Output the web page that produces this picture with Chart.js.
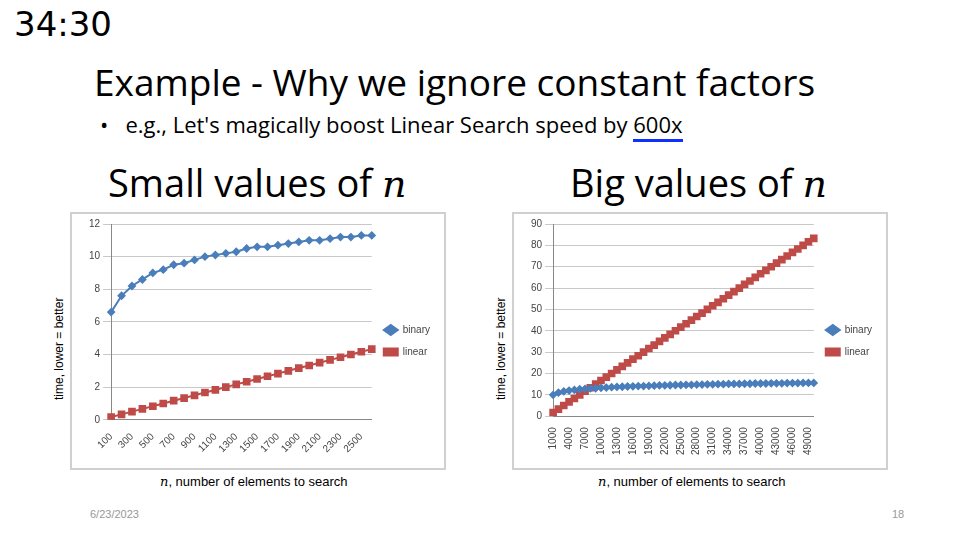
<!DOCTYPE html>
<html>
<head>
<meta charset="utf-8">
<script src="https://cdn.jsdelivr.net/npm/chart.js@4"></script>
<style>
  body { margin: 0; width: 960px; height: 540px; background: #fff; font-family: "Liberation Sans", Arial, sans-serif; position: relative; overflow: hidden; }
  .abs { position: absolute; white-space: nowrap; }
  .box { position: absolute; border: 2px solid #d0d0d0; width: 372px; height: 254px; }
  .ytitle { position: absolute; font-size: 12px; transform: rotate(-90deg); transform-origin: left top; }
  .xtitle { position: absolute; font-size: 13px; }
  i.n { font-family: "DejaVu Serif", serif; }
</style>
</head>
<body>
<div class="abs" style="left:14px;top:4px;font-size:34px;font-family:'DejaVu Sans';">34:30</div>
<div class="abs" style="left:94px;top:56px;font-size:37px;font-family:'Open Sans',sans-serif;">Example - Why we ignore constant factors</div>
<div class="abs" style="left:100px;top:109px;font-size:22px;font-family:'Open Sans',sans-serif;">•&nbsp;&nbsp;&nbsp;e.g., Let's magically boost Linear Search speed by <span style="border-bottom:3px solid #1030ff">600x</span></div>
<div class="abs" style="left:108px;top:156px;font-size:38px;font-family:'Open Sans',sans-serif;">Small values of <i class="n">n</i></div>
<div class="abs" style="left:570px;top:156px;font-size:38px;font-family:'Open Sans',sans-serif;">Big values of <i class="n">n</i></div>

<div class="box" style="left:70px;top:212px;"><canvas id="smallChart" width="372" height="254"></canvas></div>
<div class="box" style="left:512px;top:212px;"><canvas id="bigChart" width="372" height="254"></canvas></div>
<div class="ytitle" style="left:52px;top:400px;">time, lower = better</div>
<div class="ytitle" style="left:494px;top:400px;">time, lower = better</div>
<div class="xtitle" style="left:160px;top:474px;"><i class="n">n</i>, number of elements to search</div>
<div class="xtitle" style="left:598px;top:474px;"><i class="n">n</i>, number of elements to search</div>

<div class="abs" style="left:90px;top:508px;font-size:11px;color:#999;">6/23/2023</div>
<div class="abs" style="left:892px;top:508px;font-size:11px;color:#999;">18</div>

<script>
// small n: 100..2600
const smallN = [100,200,300,400,500,600,700,800,900,1000,1100,1200,1300,1400,1500,1600,1700,1800,1900,2000,2100,2200,2300,2400,2500,2600];
const smallBinary = [6.6,7.6,8.2,8.6,9.0,9.2,9.5,9.6,9.8,10.0,10.1,10.2,10.3,10.5,10.6,10.6,10.7,10.8,10.9,11.0,11.0,11.1,11.2,11.2,11.3,11.3];
const smallLinear = [0.17,0.33,0.5,0.67,0.83,1.0,1.17,1.33,1.5,1.67,1.83,2.0,2.17,2.33,2.5,2.67,2.83,3.0,3.17,3.33,3.5,3.67,3.83,4.0,4.17,4.33];

// big n: 1000..50000
const bigN = [1000,2000,3000,4000,5000,6000,7000,8000,9000,10000,11000,12000,13000,14000,15000,16000,17000,18000,19000,20000,21000,22000,23000,24000,25000,26000,27000,28000,29000,30000,31000,32000,33000,34000,35000,36000,37000,38000,39000,40000,41000,42000,43000,44000,45000,46000,47000,48000,49000,50000];
const bigBinary = [10.0,11.0,11.6,12.0,12.3,12.6,12.8,13.0,13.1,13.3,13.4,13.6,13.7,13.8,13.9,14.0,14.1,14.1,14.2,14.3,14.4,14.4,14.5,14.6,14.6,14.7,14.7,14.8,14.8,14.9,14.9,15.0,15.0,15.1,15.1,15.1,15.2,15.2,15.3,15.3,15.3,15.4,15.4,15.4,15.5,15.5,15.5,15.6,15.6,15.6];
const bigLinear = [1.7,3.3,5,6.7,8.3,10,11.7,13.3,15,16.7,18.3,20,21.7,23.3,25,26.7,28.3,30,31.7,33.3,35,36.7,38.3,40,41.7,43.3,45,46.7,48.3,50,51.7,53.3,55,56.7,58.3,60,61.7,63.3,65,66.7,68.3,70,71.7,73.3,75,76.7,78.3,80,81.7,83.3];

Chart.defaults.font.family = "Liberation Sans";
Chart.defaults.font.size = 10;
Chart.defaults.color = "#444";

function makeChart(id, labels, binary, linear, yMax, yStep, every, rot, ptSize) {
  new Chart(document.getElementById(id), {
    type: "line",
    data: {
      labels: labels,
      datasets: [
        { label: "binary", data: binary, borderColor: "#4a7ebb", backgroundColor: "#4a7ebb",
          pointStyle: "rectRot", pointRadius: ptSize, borderWidth: 2 },
        { label: "linear", data: linear, borderColor: "#be4b48", backgroundColor: "#be4b48",
          pointStyle: "rect", pointRadius: ptSize + 1, borderWidth: 2 },
      ],
    },
    options: {
      responsive: false,
      animation: false,
      layout: { padding: { top: 10, left: 14, right: 4, bottom: 10 } },
      plugins: {
        legend: {
          position: "right",
          labels: { usePointStyle: true, pointStyleWidth: 14, boxHeight: 7, padding: 12, font: { size: 10 } },
        },
        tooltip: { enabled: false },
      },
      scales: {
        y: {
          min: 0, max: yMax,
          ticks: { stepSize: yStep },
          grid: { color: "#c8c8c8" },
          border: { color: "#888" },
        },
        x: {
          grid: { display: false },
          border: { color: "#888" },
          ticks: {
            autoSkip: false, maxRotation: rot, minRotation: rot,
            callback: function (v, i) { return i % every === 0 ? labels[i] : ""; },
          },
        },
      },
    },
  });
}

makeChart("smallChart", smallN, smallBinary, smallLinear, 12, 2, 2, 45, 3);
makeChart("bigChart", bigN, bigBinary, bigLinear, 90, 10, 3, 90, 3);
</script>
</body>
</html>
